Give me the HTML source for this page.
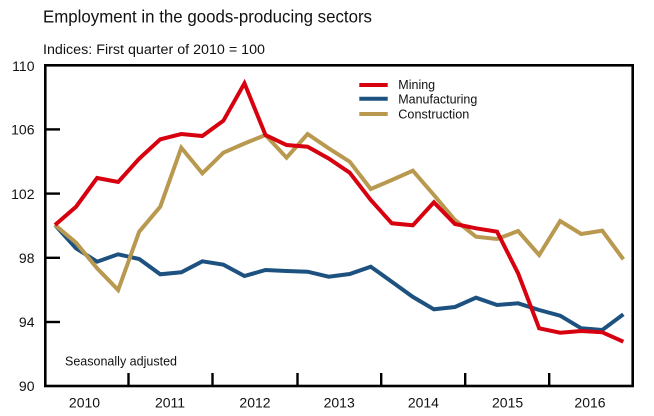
<!DOCTYPE html>
<html>
<head>
<meta charset="utf-8">
<style>
  html,body{margin:0;padding:0;background:#fff;}
  svg{display:block;}
  text{font-family:"Liberation Sans", Arial, sans-serif; fill:#111;}
</style>
</head>
<body>
<svg width="654" height="416" viewBox="0 0 654 416" xmlns="http://www.w3.org/2000/svg">
  <rect width="654" height="416" fill="#fff"/>
  <text x="43" y="22.5" font-size="17.5" textLength="329" lengthAdjust="spacingAndGlyphs">Employment in the goods-producing sectors</text>
  <text x="43" y="54" font-size="13.5" textLength="222" lengthAdjust="spacingAndGlyphs">Indices: First quarter of 2010 = 100</text>

  <!-- y labels -->
  <g font-size="14" text-anchor="end">
    <text x="34.5" y="71">110</text>
    <text x="34.5" y="134.6">106</text>
    <text x="34.5" y="198.8">102</text>
    <text x="34.5" y="263">98</text>
    <text x="34.5" y="327.2">94</text>
    <text x="34.5" y="391.2">90</text>
  </g>
  <!-- x labels -->
  <g font-size="14" text-anchor="middle">
    <text x="84.5" y="407.5">2010</text>
    <text x="170" y="407.5">2011</text>
    <text x="255" y="407.5">2012</text>
    <text x="339.2" y="407.5">2013</text>
    <text x="423.4" y="407.5">2014</text>
    <text x="507.6" y="407.5">2015</text>
    <text x="590" y="407.5">2016</text>
  </g>

  <!-- data -->
  <g fill="none" stroke-width="4" stroke-linejoin="miter" stroke-miterlimit="4">
    <polyline stroke="#1d5280" points="55,225 76.05,248.3 97.1,261.7 118.15,254.3 139.2,259 160.25,274.3 181.3,272.3 202.35,261.3 223.4,264.7 244.45,276 265.5,270 286.55,271 307.6,271.7 328.65,276.7 349.7,274 370.75,266.7 391.8,281.7 412.85,296.9 433.9,309.3 454.95,307 476,297.7 497.05,305 518.1,303.3 539.15,310 560.2,315.7 581.25,328.3 602.3,330 623.35,314.3"/>
    <polyline stroke="#b8994f" points="55,225 76.05,242.7 97.1,268.3 118.15,290 139.2,231.7 160.25,206.7 181.3,147.7 202.35,173.3 223.4,152.7 244.45,143.5 265.5,135 286.55,157.7 307.6,134 328.65,148.3 349.7,161.7 370.75,189 391.8,180 412.85,170.7 433.9,195 454.95,220 476,236.7 497.05,239 518.1,231 539.15,255 560.2,221 581.25,234 602.3,230.7 623.35,259.3"/>
    <polyline stroke="#d7000f" points="55,225 76.05,206.7 97.1,178 118.15,182 139.2,158.7 160.25,139.3 181.3,134 202.35,136 223.4,120.7 244.45,83.3 265.5,135 286.55,145 307.6,146.7 328.65,158.5 349.7,172.7 370.75,200 391.8,223.3 412.85,225.3 433.9,202.3 454.95,224 476,228.3 497.05,231.7 518.1,273.3 539.15,328.3 560.2,332.7 581.25,331 602.3,332.3 623.35,341.7"/>
  </g>

  <!-- axes box -->
  <rect x="45.3" y="65.3" width="587.4" height="320.7" fill="none" stroke="#000" stroke-width="2.6"/>
  <!-- y ticks -->
  <g stroke="#000" stroke-width="2.4">
    <line x1="45" y1="129.4" x2="60" y2="129.4"/>
    <line x1="45" y1="193.6" x2="60" y2="193.6"/>
    <line x1="45" y1="257.8" x2="60" y2="257.8"/>
    <line x1="45" y1="322" x2="60" y2="322"/>
    <!-- x ticks -->
    <line x1="128.5" y1="386" x2="128.5" y2="373"/>
    <line x1="212.5" y1="386" x2="212.5" y2="373"/>
    <line x1="297.5" y1="386" x2="297.5" y2="373"/>
    <line x1="381.2" y1="386" x2="381.2" y2="373"/>
    <line x1="465.2" y1="386" x2="465.2" y2="373"/>
    <line x1="549.2" y1="386" x2="549.2" y2="373"/>
  </g>

  <text x="65" y="365.5" font-size="12.5" textLength="112" lengthAdjust="spacingAndGlyphs">Seasonally adjusted</text>

  <!-- legend -->
  <g stroke-width="4">
    <line x1="359.3" y1="85" x2="387.7" y2="85" stroke="#d7000f"/>
    <line x1="359.3" y1="98.7" x2="387.7" y2="98.7" stroke="#1d5280"/>
    <line x1="359.3" y1="114" x2="387.7" y2="114" stroke="#b8994f"/>
  </g>
  <g font-size="12.5">
    <text x="398.3" y="89">Mining</text>
    <text x="398.3" y="103.3" textLength="79" lengthAdjust="spacingAndGlyphs">Manufacturing</text>
    <text x="398.3" y="118.3" textLength="71" lengthAdjust="spacingAndGlyphs">Construction</text>
  </g>
</svg>
</body>
</html>
